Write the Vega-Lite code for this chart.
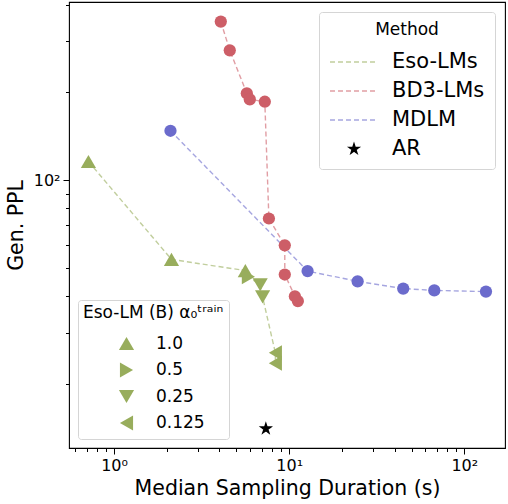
{
  "$schema": "https://vega.github.io/schema/vega-lite/v6.json",
  "width": 436,
  "height": 446,
  "autosize": {"type": "none"},
  "padding": {"left": 69, "top": 2, "right": 3, "bottom": 56},
  "background": "white",
  "data": {
    "values": [
      {"method": "Eso-LMs", "i": 0, "x": 0.714, "y": 115.9, "alpha": "1.0"},
      {"method": "Eso-LMs", "i": 1, "x": 2.128, "y": 53.5, "alpha": "1.0"},
      {"method": "Eso-LMs", "i": 2, "x": 5.62, "y": 49.0, "alpha": "1.0"},
      {"method": "Eso-LMs", "i": 3, "x": 5.85, "y": 46.7, "alpha": "0.5"},
      {"method": "Eso-LMs", "i": 4, "x": 6.83, "y": 43.8, "alpha": "0.25"},
      {"method": "Eso-LMs", "i": 5, "x": 7.05, "y": 39.8, "alpha": "0.25"},
      {"method": "Eso-LMs", "i": 6, "x": 8.34, "y": 25.6, "alpha": "0.125"},
      {"method": "Eso-LMs", "i": 7, "x": 8.34, "y": 23.6, "alpha": "0.125"},
      {"method": "BD3-LMs", "i": 0, "x": 4.07, "y": 349.5},
      {"method": "BD3-LMs", "i": 1, "x": 4.58, "y": 278.6},
      {"method": "BD3-LMs", "i": 2, "x": 5.73, "y": 198.4},
      {"method": "BD3-LMs", "i": 3, "x": 5.96, "y": 189.2},
      {"method": "BD3-LMs", "i": 4, "x": 7.26, "y": 185.7},
      {"method": "BD3-LMs", "i": 5, "x": 7.66, "y": 73.9},
      {"method": "BD3-LMs", "i": 6, "x": 9.44, "y": 59.8},
      {"method": "BD3-LMs", "i": 7, "x": 9.44, "y": 47.5},
      {"method": "BD3-LMs", "i": 8, "x": 10.78, "y": 40.0},
      {"method": "BD3-LMs", "i": 9, "x": 11.21, "y": 38.5},
      {"method": "MDLM", "i": 0, "x": 2.10, "y": 147.7},
      {"method": "MDLM", "i": 1, "x": 12.74, "y": 48.8},
      {"method": "MDLM", "i": 2, "x": 24.6, "y": 45.0},
      {"method": "MDLM", "i": 3, "x": 44.8, "y": 42.5},
      {"method": "MDLM", "i": 4, "x": 67.4, "y": 41.9},
      {"method": "MDLM", "i": 5, "x": 133, "y": 41.5},
      {"method": "AR", "i": 0, "x": 7.36, "y": 14.07}
    ]
  },
  "encoding": {
    "x": {
      "field": "x", "type": "quantitative",
      "scale": {"type": "log", "domain": [0.553, 170.8], "nice": false},
      "axis": {
        "title": "Median Sampling Duration (s)",
        "values": [0.6, 0.7, 0.8, 0.9, 1, 2, 3, 4, 5, 6, 7, 8, 9, 10, 20, 30, 40, 50, 60, 70, 80, 90, 100],
        "labelExpr": "datum.value == 1 ? '10⁰' : datum.value == 10 ? '10¹' : datum.value == 100 ? '10²' : ''",
        "tickSize": {"condition": {"test": "datum.value == 1 || datum.value == 10 || datum.value == 100", "value": 6}, "value": 3.5},
        "labelPadding": 3,
        "titlePadding": 5
      }
    },
    "y": {
      "field": "y", "type": "quantitative",
      "scale": {"type": "log", "domain": [12.08, 408], "nice": false},
      "axis": {
        "title": "Gen. PPL",
        "values": [20, 30, 40, 50, 60, 70, 80, 90, 100, 200, 300, 400],
        "labelExpr": "datum.value == 100 ? '10²' : ''",
        "tickSize": {"condition": {"test": "datum.value == 100", "value": 6}, "value": 3.5},
        "labelPadding": 3,
        "titlePadding": 7
      }
    }
  },
  "layer": [
    {
      "transform": [{"filter": "datum.method != 'AR'"}],
      "mark": {"type": "line", "strokeDash": [5, 3], "strokeWidth": 1.4},
      "encoding": {
        "order": {"field": "i", "type": "quantitative"},
        "color": {
          "field": "method", "type": "nominal",
          "scale": {"domain": ["Eso-LMs", "BD3-LMs", "MDLM"], "range": ["#c1ce9d", "#e19ea4", "#a6a6e0"]},
          "legend": null
        }
      }
    },
    {
      "transform": [{"filter": "datum.method == 'BD3-LMs'"}],
      "mark": {"type": "circle", "size": 150, "opacity": 1, "color": "#cd5e67"}
    },
    {
      "transform": [{"filter": "datum.method == 'MDLM'"}],
      "mark": {"type": "circle", "size": 150, "opacity": 1, "color": "#6b6bcc"}
    },
    {
      "transform": [{"filter": "datum.method == 'Eso-LMs'"}],
      "mark": {"type": "point", "filled": true, "size": 230, "opacity": 1, "color": "#98ad5c"},
      "encoding": {
        "shape": {
          "field": "alpha", "type": "nominal",
          "scale": {"domain": ["1.0", "0.5", "0.25", "0.125"], "range": ["triangle-up", "triangle-right", "triangle-down", "triangle-left"]},
          "legend": {
            "title": "Eso-LM (B) α₀ᵗʳᵃⁱⁿ",
            "orient": "bottom-left",
            "offset": 9,
            "titleFontSize": 17,
            "titleFontWeight": "normal",
            "labelFontSize": 17,
            "symbolSize": 230,
            "symbolOffset": 35,
            "labelOffset": 21,
            "padding": 5,
            "rowPadding": 4.5,
            "titlePadding": 13,
            "fillColor": "white",
            "strokeColor": "#d5d5d5",
            "cornerRadius": 3
          }
        }
      }
    },
    {
      "transform": [{"filter": "datum.method == 'AR'"}],
      "mark": {"type": "point", "filled": false, "size": 400, "opacity": 1, "strokeWidth": 1.4},
      "encoding": {
        "color": {
          "field": "method", "type": "nominal",
          "scale": {"domain": ["Eso-LMs", "BD3-LMs", "MDLM", "AR"], "range": ["#c1ce9d", "#e19ea4", "#a6a6e0", "black"]},
          "legend": {
            "title": "Method",
            "orient": "top-right",
            "offset": 10,
            "titleFontSize": 17,
            "titleFontWeight": "normal",
            "titleAnchor": "middle",
            "labelFontSize": 21,
            "symbolSize": 400,
            "symbolStrokeWidth": 1.4,
            "symbolOffset": 14,
            "labelOffset": 27,
            "padding": 10,
            "rowPadding": 8,
            "titlePadding": 12,
            "fillColor": "white",
            "strokeColor": "#d5d5d5",
            "cornerRadius": 3
          }
        },
        "fill": {
          "field": "method", "type": "nominal",
          "scale": {"domain": ["Eso-LMs", "BD3-LMs", "MDLM", "AR"], "range": ["transparent", "transparent", "transparent", "black"]},
          "legend": {"title": "Method"}
        },
        "shape": {
          "field": "method", "type": "nominal",
          "scale": {"domain": ["Eso-LMs", "BD3-LMs", "MDLM", "AR"], "range": ["M-2.4,0L2.4,0", "M-2.4,0L2.4,0", "M-2.4,0L2.4,0", "M0,-0.52L0.1167,-0.1607L0.4945,-0.1607L0.1888,0.0614L0.3058,0.4207L0,0.1986L-0.3058,0.4207L-0.1888,0.0614L-0.4945,-0.1607L-0.1167,-0.1607Z"]},
          "legend": {"title": "Method"}
        },
        "strokeDash": {
          "field": "method", "type": "nominal",
          "scale": {"domain": ["Eso-LMs", "BD3-LMs", "MDLM", "AR"], "range": [[5, 3], [5, 3], [5, 3], [1, 0]]},
          "legend": {"title": "Method"}
        }
      }
    }
  ],
  "resolve": {
    "scale": {"color": "independent", "fill": "independent", "shape": "independent", "strokeDash": "independent"}
  },
  "config": {
    "font": "DejaVu Sans",
    "view": {"stroke": "black", "strokeWidth": 1.1},
    "axis": {
      "grid": false,
      "domain": false,
      "tickColor": "black",
      "tickWidth": 1,
      "labelColor": "black",
      "titleColor": "black",
      "labelFontSize": 16,
      "titleFontSize": 20.5,
      "titleFontWeight": "normal",
      "labelFlush": false,
      "labelOverlap": false,
      "labelBound": false
    },
    "legend": {"labelColor": "black", "titleColor": "black"}
  }
}
